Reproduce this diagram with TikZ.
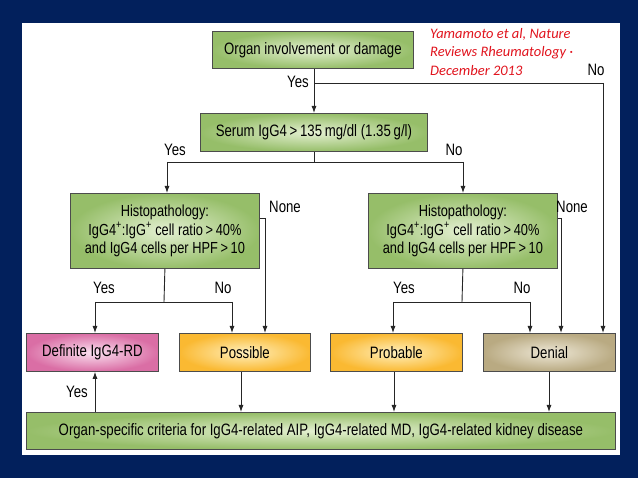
\documentclass[tikz,border=0pt]{standalone}
\usepackage{fontspec}
\setmainfont[FakeStretch=0.8]{Liberation Sans}
\newfontfamily\notefont{Carlito}
\usetikzlibrary{arrows.meta}
\definecolor{navy}{RGB}{2,32,92}
\definecolor{gbox}{RGB}{150,190,105}
\definecolor{gin}{RGB}{228,240,210}
\definecolor{pbox}{RGB}{218,110,165}
\definecolor{pin}{RGB}{250,225,240}
\definecolor{ybox}{RGB}{250,185,50}
\definecolor{yin}{RGB}{255,240,190}
\definecolor{tbox}{RGB}{185,170,130}
\definecolor{tin}{RGB}{238,232,215}
\definecolor{redtxt}{RGB}{225,20,30}
\begin{document}
\begin{tikzpicture}[x=1pt,y=-1pt,
  bx/.style={draw=black!70,line width=0.8pt,inner sep=0pt,anchor=north west,align=center,font=\fontsize{16.5}{20}\selectfont},
  grn/.style={bx,inner color=gin,outer color=gbox},
  pnk/.style={bx,inner color=pin,outer color=pbox},
  yel/.style={bx,inner color=yin,outer color=ybox},
  tan/.style={bx,inner color=tin,outer color=tbox},
  ln/.style={line width=0.9pt,black!85},
  ar/.style={ln,-{Latex[length=7pt,width=5pt]}},
  lbl/.style={font=\fontsize{16.5}{18}\selectfont}]
\fill[navy] (0,0) rectangle (638,478);
\fill[white] (22,23) rectangle (620,455);
\node[grn,minimum width=201pt,minimum height=37pt] (organ) at (212,31) {Organ involvement or damage};
\node[grn,minimum width=227pt,minimum height=38pt] (serum) at (200,113) {Serum IgG4\,>\,135\,mg/dl (1.35\,g/l)};
\node[grn,minimum width=189pt,minimum height=75pt,font=\fontsize{16}{18.5}\selectfont] (hl) at (70,193) {Histopathology:\\IgG4\textsuperscript{+}:IgG\textsuperscript{+} cell ratio\,>\,40\%\\and IgG4 cells per HPF\,>\,10};
\node[grn,minimum width=189pt,minimum height=75pt,font=\fontsize{16}{18.5}\selectfont] (hr) at (368,193) {Histopathology:\\IgG4\textsuperscript{+}:IgG\textsuperscript{+} cell ratio\,>\,40\%\\and IgG4 cells per HPF\,>\,10};
\node[pnk,minimum width=132pt,minimum height=38pt] (def) at (26,333) {Definite IgG4-RD};
\node[yel,minimum width=131pt,minimum height=38pt] (pos) at (179,333) {Possible};
\node[yel,minimum width=132pt,minimum height=38pt] (prob) at (330,333) {Probable};
\node[tan,minimum width=132pt,minimum height=38pt] (den) at (483,333) {Denial};
\node[grn,minimum width=589pt,minimum height=37pt] (crit) at (26,412) {Organ-specific criteria for IgG4-related AIP, IgG4-related MD, IgG4-related kidney disease};
\node[anchor=north west,align=left,text=redtxt,font=\notefont\itshape\fontsize{14.5}{18.5}\selectfont,inner sep=0pt] (note) at (430,28) {Yamamoto et al, Nature\\Reviews Rheumatology ·\\December 2013};
% connectors
\coordinate (oy) at (314,83);
\coordinate (or) at (603,83);
\draw[ar] (organ.south -| oy) -- (serum.north -| oy);
\draw[ln] (oy) -- (or);
\draw[ar] (or) -- (den.north -| or);
\node[lbl] at (298,82) {Yes};
\node[lbl] at (596,70) {No};
\coordinate (sb) at (314,162);
\draw[ln] (serum.south -| sb) -- (sb);
\draw[ln] (167,162) -- (463,162);
\draw[ar] (167,162) -- (167,193);
\draw[ar] (463,162) -- (463,193);
\node[lbl] at (175,150) {Yes};
\node[lbl] at (454,150) {No};
% left histo
\draw[ln] (hl.south) -- (164,302);
\draw[ln] (95,302) -- (232,302);
\draw[ar] (95,302) -- (def.north -| 95,0);
\draw[ar] (232,302) -- (pos.north -| 232,0);
\draw[ln] (hl.east |- 0,218) -- (265,218);
\draw[ar] (265,218) -- (pos.north -| 265,0);
\node[lbl] at (285,207) {None};
\node[lbl] at (104,288) {Yes};
\node[lbl] at (223,288) {No};
% right histo
\draw[ln] (hr.south) -- (462,302);
\draw[ln] (393,302) -- (530,302);
\draw[ar] (393,302) -- (prob.north -| 393,0);
\draw[ar] (530,302) -- (den.north -| 530,0);
\draw[ln] (hr.east |- 0,218) -- (561,218);
\draw[ar] (561,218) -- (den.north -| 561,0);
\node[lbl] at (572,207) {None};
\node[lbl] at (404,288) {Yes};
\node[lbl] at (522,288) {No};
% results to criteria
\draw[ar] (pos.south -| 241,0) -- (crit.north -| 241,0);
\draw[ar] (prob.south -| 394,0) -- (crit.north -| 394,0);
\draw[ar] (den.south -| 549,0) -- (crit.north -| 549,0);
\draw[ar] (crit.north -| 95,0) -- (def.south -| 95,0);
\node[lbl] at (77,392) {Yes};
\end{tikzpicture}
\end{document}
